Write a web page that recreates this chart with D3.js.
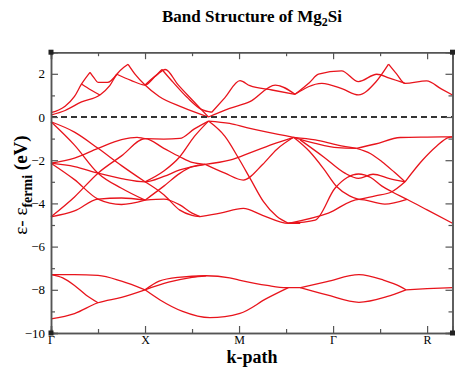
<!DOCTYPE html>
<html>
<head>
<meta charset="utf-8">
<script src="https://cdn.jsdelivr.net/npm/d3@7"></script>
<style>
  body { margin: 0; background: #fff; }
  svg { display: block; }
</style>
</head>
<body>
<svg width="474" height="373"></svg>
<script>
// k-path tick positions and labels
const kTicks = [0, 2, 4, 6, 8];
const kLabels = ['Γ', 'X', 'M', 'Γ', 'R'];
const kMax = 8.54;
const eTicks = [2, 0, -2, -4, -6, -8, -10];

// bands as [k, energy] pairs
const lowBands = [
  [[0, -7.3], [0.5, -7.3], [1, -7.33], [1.5, -7.6], [2, -8.0]],
  [[0, -7.3], [0.25, -7.45], [0.5, -7.8], [0.75, -8.25], [1, -8.6]],
  [[0, -9.35], [0.5, -9.1], [1, -8.6], [1.5, -8.35], [2, -8.0]],
  [[2, -8.0], [2.3, -7.6], [2.7, -7.42], [3.3, -7.35], [3.8, -7.45], [4.0, -7.55], [4.6, -7.8], [5.0, -7.9], [5.3, -7.9]],
  [[2, -8.0], [2.5, -7.65], [3, -7.42], [3.3, -7.35]],
  [[2, -8.0], [2.32, -8.47], [2.8, -9.0], [3.38, -9.29], [4.02, -9.09], [4.59, -8.4], [5.05, -7.9]],
  [[5.3, -7.9], [5.87, -7.62], [6.55, -7.3], [7.07, -7.55], [7.43, -7.85], [7.55, -8.0]],
  [[5.3, -7.9], [5.87, -8.24], [6.55, -8.58], [7.14, -8.32], [7.55, -8.0]],
  [[7.55, -8.0], [8, -7.95], [8.54, -7.9]]
];

const valenceBands = [
  // Γ to X
  [[0, -0.22], [0.5, -0.7], [1, -1.45], [1.5, -2.25], [2, -3.0]],
  [[0, -0.22], [0.5, -1.3], [1, -2.6], [1.5, -3.3], [2, -3.85]],
  [[0, -2.14], [0.5, -1.9], [1, -1.45], [1.5, -1.05], [1.83, -0.94], [2, -1.0], [2.4, -1.02], [2.74, -0.99], [3.05, -0.55], [3.35, -0.19]],
  [[0, -2.14], [0.5, -2.3], [1, -2.6], [1.5, -2.85], [2, -3.0], [2.4, -2.75], [2.74, -2.45], [3.28, -2.19]],
  [[0, -2.14], [0.5, -2.9], [1, -3.8], [1.5, -4.05], [2, -3.85]],
  [[0, -4.62], [0.5, -4.35], [1, -3.8], [1.5, -3.75], [2, -3.85]],
  [[0, -4.62], [0.5, -3.7], [1, -2.6], [1.5, -1.8], [2, -1.0], [2.4, -1.45], [2.74, -1.84], [3.0, -2.1], [3.28, -2.19]],
  // X to the valence maximum
  [[2, -3.0], [2.4, -2.5], [2.74, -1.84], [3.05, -0.9], [3.35, -0.19]],
  [[2, -3.85], [2.4, -3.2], [2.74, -2.61], [3.0, -2.3], [3.28, -2.19]],
  [[2, -3.85], [2.4, -3.8], [2.74, -4.07], [3.0, -4.45], [3.17, -4.61]],
  [[2, -3.0], [2.4, -3.6], [2.74, -4.31], [3.0, -4.55], [3.17, -4.61]],
  // maximum to L
  [[3.35, -0.19], [3.8, -0.3], [4.16, -0.49], [4.6, -0.7], [5.16, -0.94]],
  [[3.35, -0.19], [3.7, -0.9], [3.99, -1.91], [4.25, -2.9], [4.52, -3.92], [4.8, -4.6], [5.05, -4.92]],
  [[3.28, -2.19], [3.7, -2.6], [4.09, -2.92], [4.5, -2.2], [4.8, -1.5], [5.16, -0.94]],
  [[3.28, -2.19], [3.8, -2.0], [4.3, -1.6], [4.8, -1.2], [5.16, -0.94]],
  [[3.17, -4.61], [3.6, -4.45], [4.09, -4.23], [4.5, -4.55], [5.05, -4.92], [5.3, -4.92]],
  // L to the end of the path
  [[5.16, -0.94], [5.62, -1.06], [6.1, -1.3], [6.5, -1.45]],
  [[5.16, -0.94], [5.62, -1.22], [6.1, -1.42], [6.5, -1.45]],
  [[6.5, -1.45], [6.9, -1.25], [7.43, -0.95], [8.0, -0.93], [8.54, -0.92]],
  [[6.5, -1.45], [6.8, -1.7], [7.04, -2.07], [7.3, -2.55], [7.53, -3.0]],
  [[7.53, -3.0], [7.9, -2.0], [8.2, -1.35], [8.45, -0.95], [8.54, -0.92]],
  [[6.55, -3.81], [6.9, -3.65], [7.25, -3.46], [7.53, -3.0]],
  [[5.16, -0.94], [5.5, -1.6], [5.8, -2.4], [6.08, -3.23], [6.35, -3.65], [6.55, -3.81]],
  [[5.05, -4.92], [5.62, -4.77], [6.04, -3.3], [6.3, -2.8], [6.54, -2.64], [6.8, -2.8], [7.04, -3.2], [7.25, -3.46], [7.57, -3.81], [8.0, -4.3], [8.54, -4.92]],
  [[5.3, -1.06], [5.8, -1.85], [6.25, -2.6], [6.54, -2.84], [6.85, -2.65], [7.2, -2.85], [7.53, -3.0]],
  [[5.05, -4.92], [5.9, -4.45], [6.55, -3.81], [7.1, -4.03], [7.57, -3.81]]
];

const conductionBands = [
  [[0, 0.2], [0.3, 0.5], [0.5, 0.95], [0.65, 1.53], [0.83, 2.07]],
  [[0.83, 2.07], [0.92, 1.8], [1.0, 1.6], [1.2, 1.6], [1.4, 1.98]],
  [[0, 0.09], [0.3, 0.3], [0.65, 0.7], [1.04, 1.02], [1.25, 1.45], [1.4, 1.98], [1.55, 2.3], [1.64, 2.44]],
  [[0.65, 1.53], [0.85, 1.25], [1.04, 1.02]],
  [[1.64, 2.44], [1.8, 1.95], [2.0, 1.48], [2.3, 0.95], [2.8, 0.45], [3.35, 0.0]],
  [[1.4, 1.98], [1.7, 1.7], [2.0, 1.48], [2.2, 1.85], [2.36, 2.2]],
  [[2.36, 2.2], [2.6, 1.6], [2.9, 0.9], [3.2, 0.35], [3.42, 0.22]],
  [[2.0, 1.48], [2.25, 1.95], [2.43, 2.2], [2.7, 1.5], [3.0, 0.8], [3.35, 0.0]],
  [[3.35, 0.0], [3.8, 0.4], [4.23, 0.71], [4.77, 1.48], [5.19, 1.05]],
  [[3.42, 0.22], [3.7, 0.9], [4.02, 1.68], [4.23, 1.45], [4.7, 1.25], [5.19, 1.05]],
  [[5.19, 1.05], [5.5, 1.6], [5.69, 1.98], [6.18, 2.14], [6.54, 1.64], [6.93, 1.98], [7.2, 1.8], [7.53, 1.56]],
  [[5.19, 1.05], [5.76, 1.56], [6.2, 1.3], [6.54, 1.02], [6.9, 1.6], [7.18, 2.45]],
  [[7.18, 2.45], [7.35, 2.0], [7.53, 1.56], [7.99, 1.67], [8.3, 1.3], [8.54, 1.02]]
];

const svg = d3.select('svg');

const x = d3.scaleLinear().domain([0, kMax]).range([51, 452.5]);
const y = d3.scaleLinear().domain([-10, 3]).range([333, 52.2]);

const line = d3.line()
  .x(d => x(d[0]))
  .y(d => y(d[1]))
  .curve(d3.curveMonotoneX);

// title
const title = svg.append('text')
  .attr('x', 252).attr('y', 22)
  .attr('text-anchor', 'middle')
  .style('font-family', '"Liberation Serif", serif')
  .style('font-weight', 'bold')
  .style('font-size', '17px');
title.append('tspan').text('Band Structure of Mg');
title.append('tspan').attr('dy', 4).style('font-size', '12px').text('2');
title.append('tspan').attr('dy', -4).text('Si');

// bands
const bandsG = svg.append('g')
  .attr('fill', 'none')
  .attr('stroke', '#e8141c')
  .attr('stroke-width', 1.3);

[...lowBands, ...valenceBands, ...conductionBands].forEach(b => {
  bandsG.append('path').attr('d', line(b));
});

// fermi level
svg.append('line')
  .attr('x1', x(0)).attr('x2', x(kMax))
  .attr('y1', y(0)).attr('y2', y(0))
  .attr('stroke', '#333')
  .attr('stroke-width', 2)
  .attr('stroke-dasharray', '6,4');

// axes: inward ticks on all four sides
const axisColor = '#555';
const minorK = d3.range(1, 9, 2);
const minorE = d3.range(-9, 3, 2);

function styleAxis(g, size) {
  g.select('.domain').attr('stroke', axisColor).attr('stroke-width', 1.5);
  g.selectAll('.tick line').attr('stroke', axisColor).attr('stroke-width', 1.2);
  g.selectAll('text')
    .style('font-family', '"Liberation Serif", serif')
    .style('font-size', (size || 13) + 'px')
    .attr('fill', '#000');
}

svg.append('g')
  .attr('transform', `translate(0,${y(-10)})`)
  .call(d3.axisBottom(x).tickValues(kTicks).tickSize(-7).tickPadding(2)
    .tickFormat((d, i) => kLabels[i]))
  .call(styleAxis, 12);
svg.append('g')
  .attr('transform', `translate(0,${y(-10)})`)
  .call(d3.axisBottom(x).tickValues(minorK).tickSize(-4).tickFormat(''))
  .call(styleAxis);

svg.append('g')
  .attr('transform', `translate(0,${y(3)})`)
  .call(d3.axisTop(x).tickValues(kTicks).tickSize(-7).tickFormat(''))
  .call(styleAxis);
svg.append('g')
  .attr('transform', `translate(0,${y(3)})`)
  .call(d3.axisTop(x).tickValues(minorK).tickSize(-4).tickFormat(''))
  .call(styleAxis);

svg.append('g')
  .attr('transform', `translate(${x(0)},0)`)
  .call(d3.axisLeft(y).tickValues(eTicks).tickSize(-7).tickPadding(6))
  .call(styleAxis);
svg.append('g')
  .attr('transform', `translate(${x(0)},0)`)
  .call(d3.axisLeft(y).tickValues(minorE).tickSize(-4).tickFormat(''))
  .call(styleAxis);

svg.append('g')
  .attr('transform', `translate(${x(kMax)},0)`)
  .call(d3.axisRight(y).tickValues(eTicks).tickSize(-7).tickFormat(''))
  .call(styleAxis);
svg.append('g')
  .attr('transform', `translate(${x(kMax)},0)`)
  .call(d3.axisRight(y).tickValues(minorE).tickSize(-4).tickFormat(''))
  .call(styleAxis);

// corner squares
[[0, 3], [kMax, 3], [0, -10], [kMax, -10]].forEach(c => {
  svg.append('rect')
    .attr('x', x(c[0]) - 2.5).attr('y', y(c[1]) - 2.5)
    .attr('width', 5).attr('height', 5)
    .attr('fill', '#222');
});

// axis titles
svg.append('text')
  .attr('x', 252).attr('y', 363)
  .attr('text-anchor', 'middle')
  .style('font-family', '"Liberation Serif", serif')
  .style('font-weight', 'bold')
  .style('font-size', '18px')
  .text('k-path');

const ylab = svg.append('text')
  .attr('transform', 'translate(27,185) rotate(-90)')
  .attr('text-anchor', 'middle')
  .style('font-family', '"Liberation Serif", serif')
  .style('font-weight', 'bold')
  .style('font-size', '19px');
ylab.append('tspan').style('font-weight', 'normal').text('ε- ε');
ylab.append('tspan').attr('dy', 5).style('font-size', '14px').text('fermi');
ylab.append('tspan').attr('dy', -5).text(' (eV)');
</script>
</body>
</html>
